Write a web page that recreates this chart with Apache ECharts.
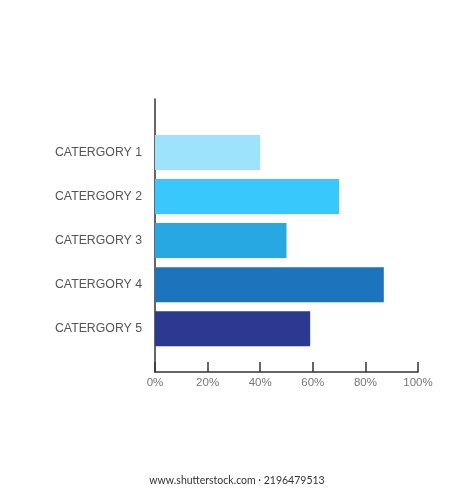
<!DOCTYPE html>
<html>
<head>
<meta charset="utf-8">
<script src="https://cdn.jsdelivr.net/npm/echarts@6/dist/echarts.min.js"></script>
<style>
html,body{margin:0;padding:0;background:#fff;}
#c{width:474px;height:489px;}
</style>
</head>
<body>
<div id="c"></div>
<script>
var categories = ['CATERGORY 1', 'CATERGORY 2', 'CATERGORY 3', 'CATERGORY 4', 'CATERGORY 5'];
var values = [40, 70, 50, 87, 59];
var barColors = ['#9DE3FC', '#39C8FC', '#28A8E0', '#1C75BC', '#2B3990'];
var xTickValues = [0, 20, 40, 60, 80, 100];
var caption = 'www.shutterstock.com \u00b7 2196479513';

var chart = echarts.init(document.getElementById('c'), null, {renderer: 'canvas'});
var font = '"Liberation Sans", Arial, sans-serif';
chart.setOption({
  animation: false,
  backgroundColor: '#ffffff',
  grid: [
    {left: 155, right: 56, top: 130.5, bottom: 138.3},
    {left: 155, right: 56, top: 99, bottom: 117}
  ],
  xAxis: [
    {
      gridIndex: 0, type: 'value', min: 0, max: 100, interval: 20,
      axisLine: {show: false}, axisTick: {show: false}, axisLabel: {show: false}, splitLine: {show: false}
    },
    {
      gridIndex: 1, type: 'value', min: xTickValues[0], max: xTickValues[xTickValues.length - 1], interval: 20,
      axisLine: {show: true, lineStyle: {color: '#333', width: 1.5}},
      axisTick: {show: true, inside: true, length: 10, lineStyle: {color: '#333', width: 1.5}},
      axisLabel: {formatter: '{value}%', color: '#777', fontSize: 11.5, fontFamily: font, margin: 5},
      splitLine: {show: false}
    }
  ],
  yAxis: [
    {
      gridIndex: 0, type: 'category', data: categories, inverse: true,
      axisLine: {show: false}, axisTick: {show: false},
      axisLabel: {color: '#555', fontSize: 12.3, fontFamily: font, margin: 13}
    },
    {
      gridIndex: 1, type: 'value', min: 0, max: 1,
      axisLine: {show: true, lineStyle: {color: '#333', width: 1.5}},
      axisTick: {show: false}, axisLabel: {show: false}, splitLine: {show: false}
    }
  ],
  series: [{
    type: 'bar',
    xAxisIndex: 0, yAxisIndex: 0,
    barWidth: 35,
    data: values.map(function (v, i) {
      return {value: v, itemStyle: {color: barColors[i]}};
    })
  }],
  graphic: [{
    type: 'text',
    left: 'center',
    top: 475,
    style: {text: caption, fill: '#333', fontSize: 10.5, fontFamily: 'Lato, sans-serif'}
  }]
});
</script>
</body>
</html>
